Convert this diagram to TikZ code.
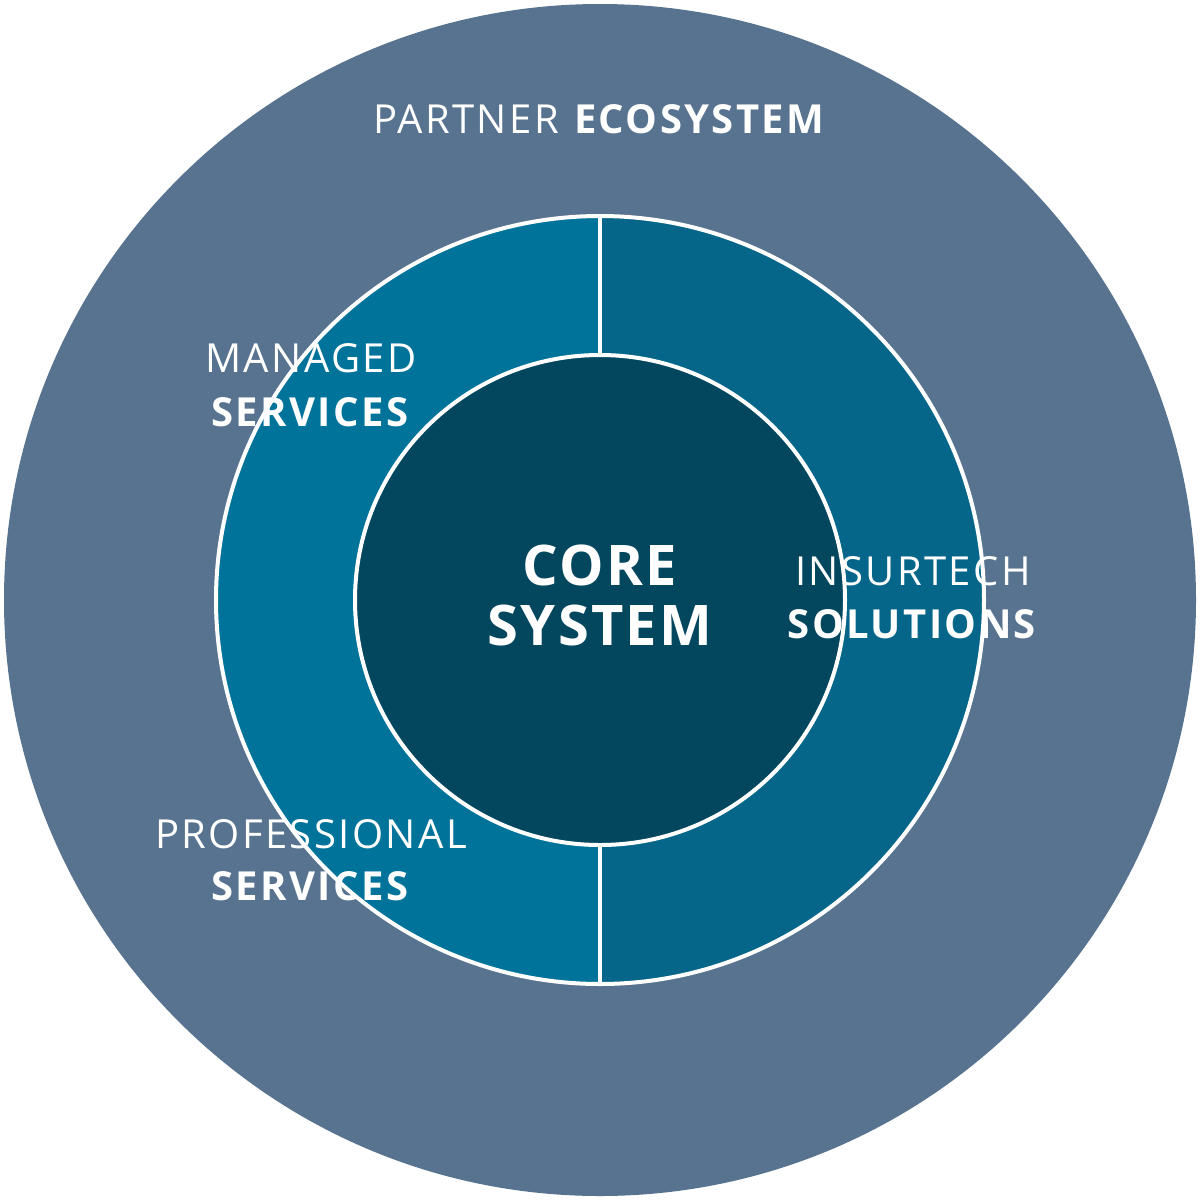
\documentclass[tikz,border=0pt]{standalone}
\usepackage{fontspec}
\setmainfont{Open Sans}[LetterSpace=6]
\newfontfamily\lbl{Open Sans}[LetterSpace=6]
\newfontfamily\bigf{Open Sans}[LetterSpace=4]
\definecolor{outerc}{HTML}{58738F}
\definecolor{leftc}{HTML}{00739A}
\definecolor{rightc}{HTML}{05668A}
\definecolor{corec}{HTML}{03475F}
\tikzset{
  lab/.style={text=white,anchor=base,inner sep=0pt,font=\lbl\fontsize{40}{40}\selectfont},
  big/.style={text=white,anchor=base,inner sep=0pt,font=\bigf\bfseries\fontsize{56}{56}\selectfont},
  sep/.style={draw=white,line width=4pt}
}
\begin{document}
\begin{tikzpicture}[x=1pt,y=-1pt]
\useasboundingbox (0,0) rectangle (1200,1200);
\fill[outerc] (600,600) circle (596);
% middle ring halves
\fill[leftc] (600,216) arc[start angle=-90,end angle=-270,radius=384] -- cycle;
\fill[rightc] (600,216) arc[start angle=-90,end angle=90,radius=384] -- cycle;
\coordinate (top) at (600,216);
\coordinate (topin) at (600,355);
\coordinate (bot) at (600,984);
\coordinate (botin) at (600,845);
\draw[sep] (top) -- (topin);
\draw[sep] (botin) -- (bot);
\draw[sep] (600,600) circle (384);
\draw[sep,fill=corec] (600,600) circle (245);
% labels
\node[lab] (partner) at (600,133) {PARTNER \textbf{ECOSYSTEM}};
\node[lab] (managed) at (311,372) {MANAGED};
\node[lab] (mserv) at (311,426) {\textbf{SERVICES}};
\node[lab] (insur) at (913,585) {INSURTECH};
\node[lab] (sol) at (913,638) {\textbf{SOLUTIONS}};
\node[lab] (prof) at (311,848) {PROFESSIONAL};
\node[lab] (pserv) at (311,900) {\textbf{SERVICES}};
\node[big] (core) at (600,585) {CORE};
\node[big] (system) at (600,645) {SYSTEM};
\end{tikzpicture}
\end{document}
